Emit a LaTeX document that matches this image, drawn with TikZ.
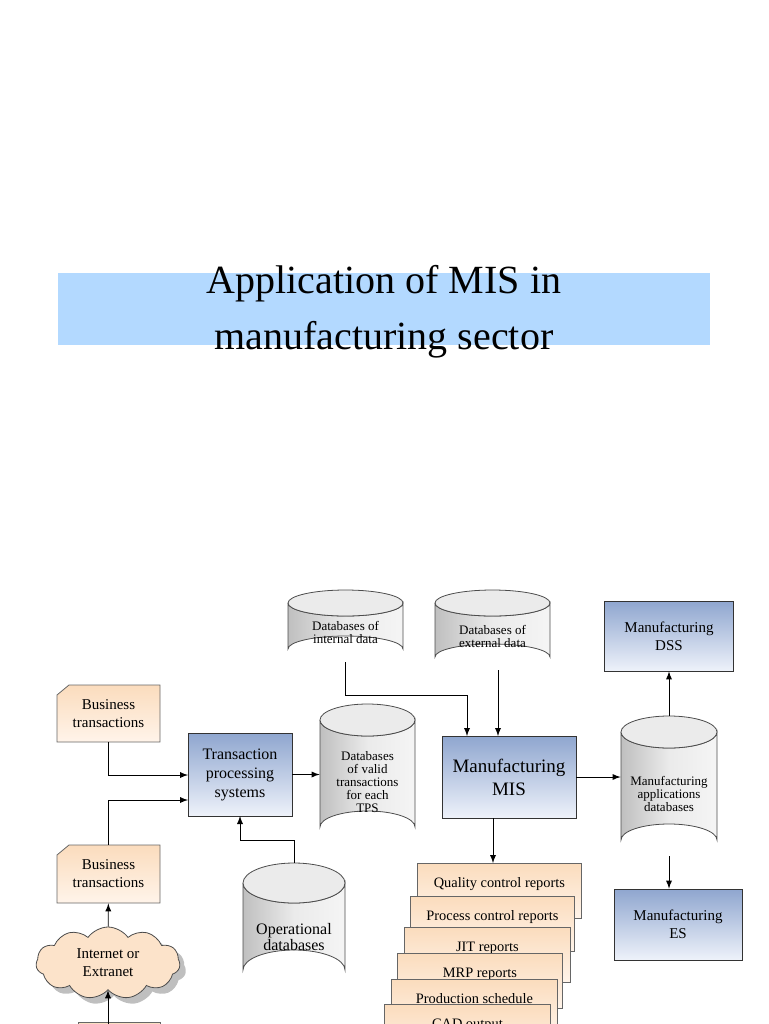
\documentclass[tikz,border=0pt]{standalone}
\usepackage{fontspec}
\setmainfont{Liberation Serif}
\usetikzlibrary{shapes.symbols, shadows, arrows}
\definecolor{band}{HTML}{B3D9FF}
\definecolor{boxtop}{HTML}{8FA6CF}
\definecolor{boxbot}{HTML}{EEF2FA}
\definecolor{peach}{HTML}{FBDCBD}
\definecolor{peachlt}{HTML}{FFF4EA}
\tikzstyle{sysbox} = [draw=black!80, top color=boxtop, bottom color=boxbot, align=center]
\tikzstyle{paper} = [draw=black!60, top color=peach, bottom color=peachlt]
\tikzstyle{report} = [paper, minimum width=82pt, minimum height=27.5pt, anchor=north west, inner sep=2pt, text height=7pt, text depth=10pt, font=\fontsize{7.2}{8}\selectfont]
\tikzstyle{arrow} = [thin, ->, >=latex]
% box with cut corner: name, x1, y1, x2, y2, text
\newcommand{\card}[6]{
  \path[paper] (#2+12,#3) -- (#4,#3) -- (#4,#5) -- (#2,#5) -- (#2,#3+10) -- cycle;
  \node (#1) [minimum width={(#4-#2)*0.5pt}, minimum height={(#5-#3)*0.5pt}, align=center, inner sep=0pt]
    at ({(#2+#4)/2},{(#3+#5)/2}) {#6};
}
% cylinder: name, x1, y1, x2, y2, ellipse half height, text, font size
\newcommand{\dbcyl}[8]{
  \path[draw=black!70, left color=black!25, right color=black!4, middle color=black!8]
    (#2,#3+#6) -- (#2,#5-#6) arc[start angle=180, end angle=360, x radius={(#4-#2)/2}, y radius=#6]
    -- (#4,#3+#6) arc[start angle=0, end angle=180, x radius={(#4-#2)/2}, y radius=#6];
  \draw[black!70, fill=black!8] ({(#2+#4)/2},#3+#6) ellipse[x radius={(#4-#2)/2}, y radius=#6];
  \node (#1) [minimum width={(#4-#2)*0.5pt}, minimum height={(#5-#3)*0.5pt}, inner sep=0pt]
    at ({(#2+#4)/2},{(#3+#5)/2}) {};
  \node[align=center, font=\fontsize{#8}{#8pt}\selectfont, text depth=0pt] at ({(#2+#4)/2},{(#3+#5)/2+#6/2}) {#7};
}

\begin{document}
\begin{tikzpicture}[x=0.5pt, y=-0.5pt, font=\fontsize{7.5}{9}\selectfont]
	\useasboundingbox (0,0) rectangle (768,1024);

	\fill[band] (58,273) rectangle (710,345);
	\node (title) [align=center, font=\fontsize{20}{28}\selectfont] at (384,312)
		{Application of MIS in\\manufacturing sector};

	\dbcyl{dbint}{288}{590}{403}{662}{13}{Databases of\\internal data}{6.5}
	\dbcyl{dbext}{435}{590}{550}{670}{13}{Databases of\\external data}{6.5}
	\dbcyl{dbvalid}{320}{704}{415}{843}{16}{Databases\\of valid\\transactions\\for each\\TPS}{6.5}
	\dbcyl{dbapp}{621}{716}{717}{856}{16}{Manufacturing\\applications\\databases}{6.5}
	\dbcyl{dbop}{243}{863}{345}{990}{20}{Operational\\databases}{8}

	\node (dss) [sysbox, minimum width=64.5pt, minimum height=35pt] at (669,636) {Manufacturing\\DSS};
	\node (es) [sysbox, minimum width=64pt, minimum height=35.5pt] at (678,924.5) {Manufacturing\\ES};
	\node (tps) [sysbox, minimum width=52pt, minimum height=41.5pt, font=\fontsize{8}{9.5}\selectfont] at (240,774.5) {Transaction\\processing\\systems};
	\node (mis) [sysbox, minimum width=67pt, minimum height=41pt, font=\fontsize{9.5}{11.5}\selectfont] at (509,777) {Manufacturing\\MIS};

	\card{bt1}{57}{685}{160}{742}{Business\\transactions}
	\card{bt2}{57}{845}{160}{903}{Business\\transactions}
	\node (net) [cloud, cloud puffs=11, cloud puff arc=110, aspect=2.2, draw=black!70, fill=peach!80,
		drop shadow={shadow xshift=3pt, shadow yshift=-3pt, fill=black!50}, minimum width=72pt, minimum height=36pt, align=center,
		inner sep=0pt] at (108,963) {Internet or\\Extranet};
	\path[paper] (78,1022) rectangle (160,1030);
	\coordinate (feed) at (108,1024);

	\node (qc) [report] at (417,863) {Quality control reports};
	\node (pc) [report] at (410,896) {Process control reports};
	\node (jit) [report, minimum width=83pt] at (404,927) {JIT reports};
	\node (mrp) [report, minimum width=82.5pt] at (397,953) {MRP reports};
	\node (ps) [report, minimum width=83pt] at (391,979) {Production schedule};
	\node (cad) [report, minimum width=83pt] at (384,1004) {CAD output};

	\coordinate (tpsin1) at (188,775);
	\coordinate (tpsin2) at (188,800);
	\coordinate (tpsin3) at (240,816);
	\coordinate (misin1) at (467,736);
	\coordinate (misin2) at (498,736);
	\coordinate (misout) at (493,818);
	\coordinate (qcin) at (493,863);

	\draw [arrow] (bt1.south) |- (tpsin1);
	\draw [arrow] (bt2.north) |- (tpsin2);
	\draw [arrow] (net) -- (bt2);
	\draw [arrow] (feed) -- (net.south);
	\draw [arrow] (dbop.north) |- (240,840) -- (tpsin3);
	\draw [arrow] (tps.east) -- (tps.east -| dbvalid.west);
	\draw [arrow] (dbint.south) |- (467,695) -- (misin1);
	\draw [arrow] (misin2 |- dbext.south) -- (misin2);
	\draw [arrow] (mis.east) -- (mis.east -| dbapp.west);
	\draw [arrow] (dbapp.north) -- (dss.south -| dbapp.north);
	\draw [arrow] (dbapp.south) -- (es.north -| dbapp.south);
	\draw [arrow] (misout) -- (qcin);

\end{tikzpicture}
\end{document}
